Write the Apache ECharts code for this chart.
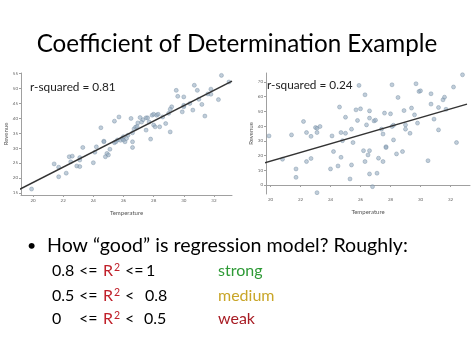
<!DOCTYPE html>
<html><head><meta charset="utf-8">
<script src="https://cdn.jsdelivr.net/npm/echarts@6/dist/echarts.min.js"></script>
<style>html,body{margin:0;padding:0;background:#fff}#c{width:474px;height:355px}</style>
</head><body><div id="c"></div>
<script>
// Left chart (r-squared = 0.81)
var leftX = [19.9,21.4,21.7,21.7,22.2,22.4,22.6,22.5,22.9,23.1,23.1,23.1,23.3,24.0,24.2,24.1,24.5,24.7,24.7,24.8,24.9,25.0,25.1,25.4,25.5,25.4,25.7,25.6,25.8,25.9,26.0,26.0,26.1,26.2,26.3,26.5,26.6,26.6,26.6,26.7,26.8,26.9,26.95,27.1,27.2,27.3,27.5,27.5,27.6,27.7,27.8,27.9,28.0,28.0,28.2,28.3,28.1,28.4,28.6,28.8,29.0,29.1,29.2,29.1,29.5,29.6,29.9,30.0,30.0,30.0,30.4,30.6,30.7,30.9,31.0,31.2,31.4,31.6,31.8,31.8,32.3,32.5,33.0];
var leftY = [16.3,24.7,23.6,20.4,21.6,27.1,27.3,25.4,24.0,23.8,26.0,26.8,30.2,25.1,30.4,28.6,36.8,32.3,32.1,27.1,28.2,27.7,29.6,31.8,32.1,39.0,40.4,32.7,32.6,33.2,32.7,33.8,32.1,33.2,34.3,39.9,35.1,32.1,30.2,36.4,37.0,37.2,38.4,40.2,38.7,39.5,40.1,36.0,40.1,38.7,33.0,41.0,37.7,41.3,41.0,41.3,37.1,37.1,40.4,38.2,41.6,35.4,43.8,43.0,49.3,47.3,42.1,43.8,47.1,44.3,44.9,42.7,51.0,49.3,46.3,44.6,40.7,48.1,49.7,48.0,46.2,54.3,52.1];
var leftLineX = [19.1, 33.2];
var leftLineY = [16.2, 52.4];
// Right chart (r-squared = 0.24)
var rightX = [19.4,19.9,20.8,21.4,21.7,21.7,22.2,22.4,22.4,22.7,22.7,23.0,23.1,23.1,23.3,23.1,24.0,24.1,24.2,24.5,24.6,24.7,24.7,24.8,25.0,25.0,25.3,25.4,25.4,25.5,25.7,25.8,25.9,26.0,26.2,26.3,26.4,26.3,26.5,26.6,26.6,26.6,26.6,26.8,26.9,27.0,27.1,27.2,27.4,27.5,27.5,27.6,27.7,27.7,28.0,28.1,28.1,28.2,28.2,28.4,28.5,28.8,28.9,29.0,29.0,29.3,29.4,29.6,29.7,29.9,30.0,29.8,30.5,30.7,30.7,30.9,31.2,31.2,31.5,31.6,31.7,32.2,32.4,32.8];
var rightY = [4.5,33.3,17.5,34.0,10.9,5.2,43.1,35.6,15.9,33.0,18.0,39.0,35.6,38.5,39.7,-5.2,10.9,33.3,22.7,12.9,52.9,35.6,18.8,30.1,46.0,35.1,4.1,13.6,37.9,28.8,51.0,43.8,67.6,51.7,23.3,61.2,40.8,15.9,20.4,50.3,45.4,23.3,7.5,-1.1,43.5,44.0,8.0,18.2,37.9,15.9,34.6,48.8,26.0,25.4,48.3,68.0,39.7,40.6,30.6,21.1,59.4,22.7,50.5,40.8,37.9,35.1,52.2,47.6,68.7,63.5,63.9,42.0,16.5,61.9,54.9,44.7,37.4,52.6,57.8,59.6,51.4,66.5,28.8,74.8];
var rightLineX = [19.3, 33.1];
var rightLineY = [14.1, 54.9];
// Tick labels
var xTicks = [20,22,24,26,28,30,32];
var leftYTicks = [15,20,25,30,35,40,45,50,55];
var rightYTicks = [0,10,20,30,40,50,60,70];

function pairs(xs, ys){ return xs.map(function(x,i){ return [x, ys[i]]; }); }

var FONT = 'Lato';
var axisGray = '#a0a0a0';
function xAx(idx, min, max){
  return {gridIndex: idx, type:'value', min:min, max:max,
    name:'Temperature', nameLocation:'middle', nameGap:15,
    nameTextStyle:{fontSize:6, color:'#555', fontFamily:FONT},
    axisLine:{lineStyle:{color:axisGray, width:1}},
    axisTick:{show:true, length:2, customValues:xTicks, lineStyle:{color:axisGray}},
    axisLabel:{fontSize:4.5, color:'#666', margin:3, customValues:xTicks, fontFamily:FONT},
    splitLine:{show:false}};
}
function yAx(idx, min, max, ticks){
  return {gridIndex: idx, type:'value', min:min, max:max,
    name:'Revenue', nameLocation:'middle', nameGap:12, nameRotate:90,
    nameTextStyle:{fontSize:6, color:'#555', fontFamily:FONT},
    axisLine:{show:true, lineStyle:{color:axisGray, width:1}},
    axisTick:{show:true, length:2, customValues:ticks, lineStyle:{color:axisGray}},
    axisLabel:{fontSize:4.5, color:'#666', margin:3, customValues:ticks, fontFamily:FONT},
    splitLine:{show:false}};
}
var dotStyle = {color:'rgba(150,172,192,0.75)', borderColor:'#7089a0', borderWidth:0.5};

var RED = '#c0202a';
function t(x, y, s, col, fs){ return {type:'text', left:x, top:y, style:{text:s, fontSize:fs||16, fontFamily:FONT, fill:col||'#000'}}; }
function row(y, a, op1, op2, b, word, col){
  return [t(52,y,a), t(79,y,'<='), t(103,y,'R',RED), t(114,y-1,'2',RED,10.5), t(125,y,op2), t(b.x,y,b.s), t(218,y,word,col)];
}

var graphics = [
  {type:'text', left:'center', top:32, style:{text:'Coefficient of Determination Example', fontSize:24.2, fontFamily:FONT, fill:'#000'}},
  {type:'text', left:30, top:81, style:{text:'r-squared = 0.81', fontSize:11.8, fontFamily:FONT, fill:'#222'}},
  {type:'text', left:267, top:79, style:{text:'r-squared = 0.24', fontSize:11.8, fontFamily:FONT, fill:'#222'}},
  {type:'text', left:27, top:238, style:{text:'•', fontSize:16, fontFamily:FONT, fill:'#000'}},
  {type:'text', left:47, top:236, style:{text:'How “good” is regression model? Roughly:', fontSize:19.6, fontFamily:FONT, fill:'#000'}}
].concat(
  row(263,'0.8','<=','<=',{x:146,s:'1'},'strong','#2e9a36'),
  row(288,'0.5','<=','<',{x:145,s:'0.8'},'medium','#c9a629'),
  row(311,'0','<=','<',{x:144,s:'0.5'},'weak','#a81c24')
);

var chart = echarts.init(document.getElementById('c'), null, {renderer:'canvas'});
chart.setOption({
  backgroundColor:'#fff',
  animation:false,
  grid:[
    {left:21, right:242, top:73, bottom:160},
    {left:266, right:4, top:73, bottom:161}
  ],
  xAxis:[xAx(0, 19.2, 33.2), xAx(1, 19.7, 33.3)],
  yAxis:[yAx(0, 14.3, 55.1, leftYTicks), yAx(1, -6.1, 76, rightYTicks)],
  series:[
    {type:'scatter', xAxisIndex:0, yAxisIndex:0, data:pairs(leftX,leftY), symbolSize:4, itemStyle:dotStyle},
    {type:'line', xAxisIndex:0, yAxisIndex:0, data:pairs(leftLineX,leftLineY), symbol:'none', lineStyle:{color:'#333', width:1.5}},
    {type:'scatter', xAxisIndex:1, yAxisIndex:1, data:pairs(rightX,rightY), symbolSize:4, itemStyle:dotStyle},
    {type:'line', xAxisIndex:1, yAxisIndex:1, data:pairs(rightLineX,rightLineY), symbol:'none', lineStyle:{color:'#333', width:1.5}}
  ],
  graphic: graphics
});
</script></body></html>
